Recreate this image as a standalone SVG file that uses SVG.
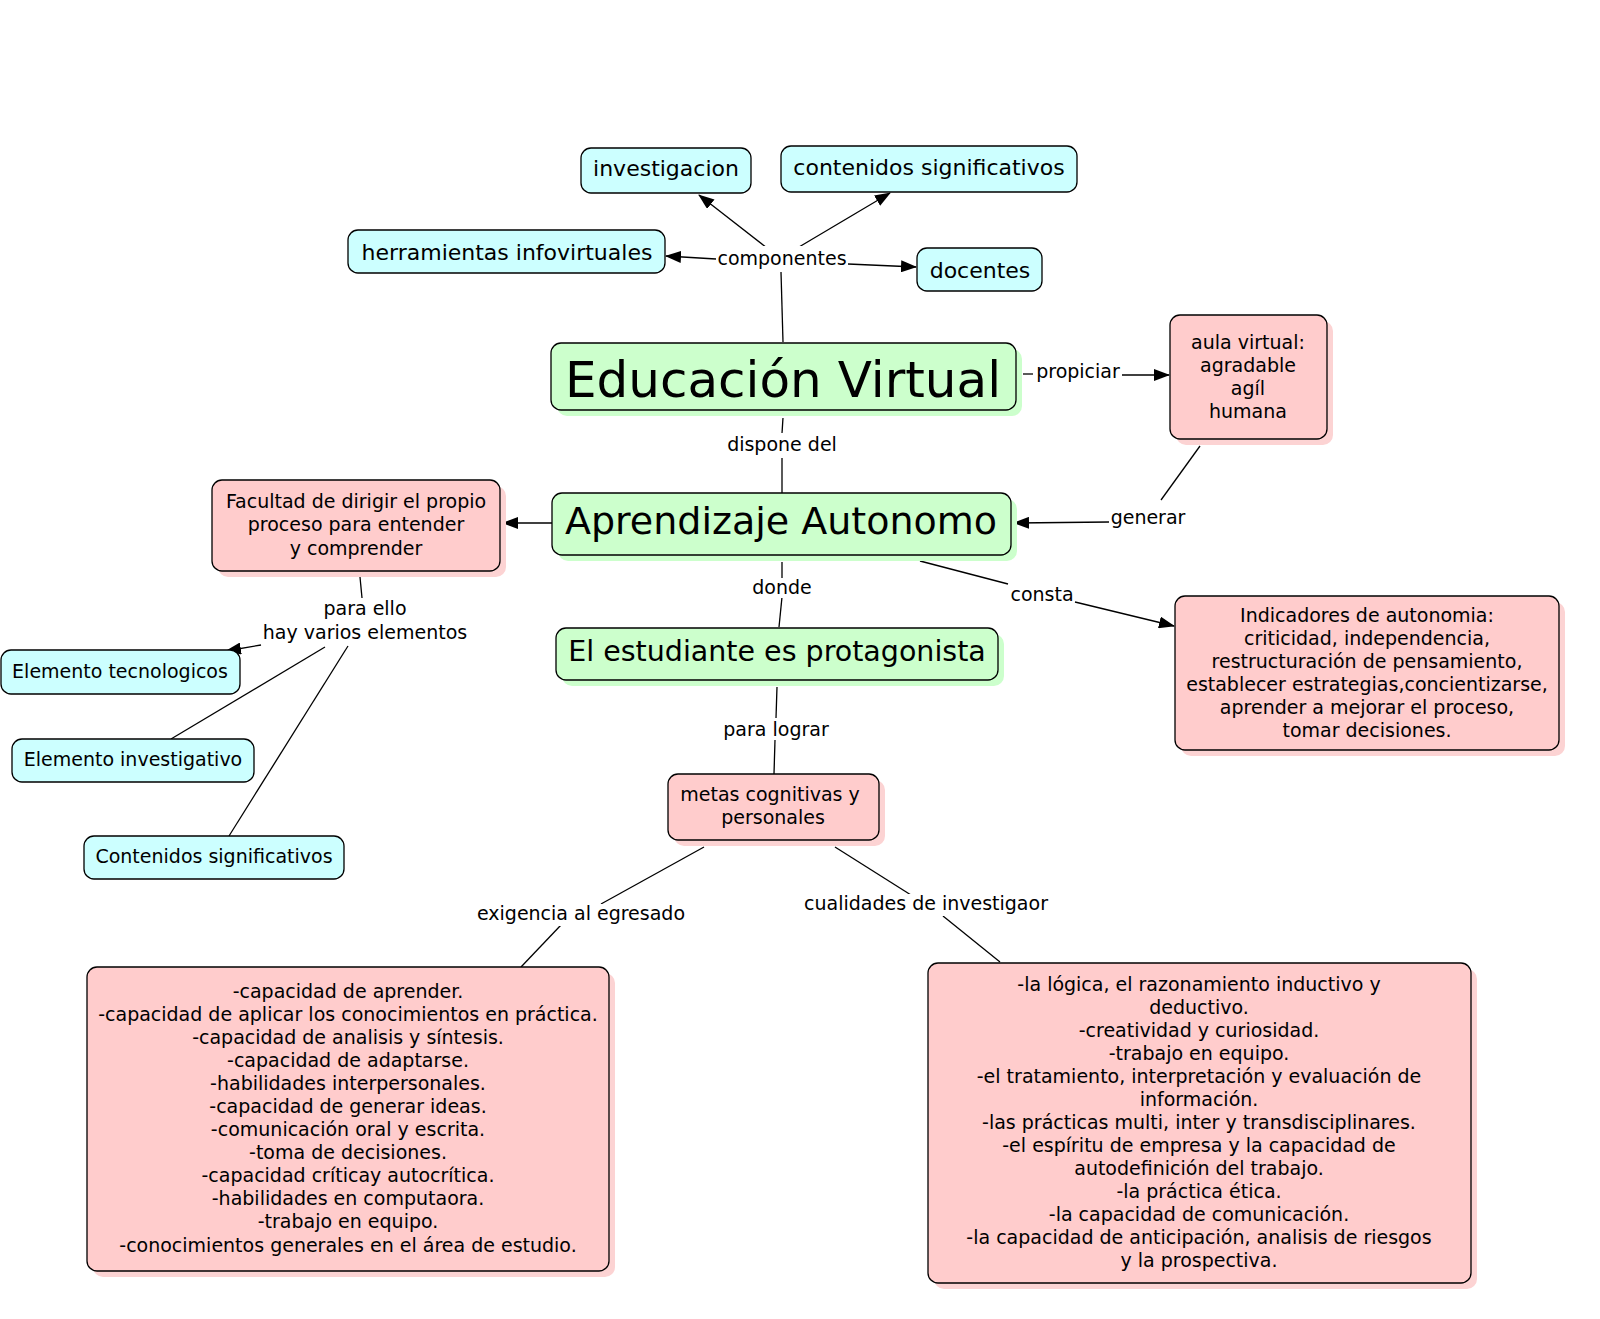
<svg xmlns="http://www.w3.org/2000/svg" width="1600" height="1319" viewBox="0 0 1600 1319">
<style>
text{font-family:"DejaVu Sans","Verdana",sans-serif;fill:#000;text-anchor:middle}
.n{stroke:#000;stroke-width:1.3}
.b{fill:#ccffff}
.g{fill:#ccffcc}
.p{fill:#ffcccc}
.gs{fill:#ccffcc}
.ps{fill:#fcd3d3}
.t17{font-size:19px}
.t20{font-size:22px}
.c line{stroke:#000;stroke-width:1.3}
.lbl{font-size:19px}
</style>
<defs>
<marker id="ah" viewBox="0 0 16 12" refX="15" refY="6" markerWidth="16" markerHeight="12" markerUnits="userSpaceOnUse" orient="auto">
<path d="M0,0 L16,6 L0,12 Z" fill="#000"/>
</marker>
</defs>
<rect width="1600" height="1319" fill="#fff"/>

<g id="connectors" class="c">
<line x1="783" y1="342" x2="781" y2="272"/>
<line x1="767" y1="248" x2="699" y2="195" marker-end="url(#ah)"/>
<line x1="799" y1="247" x2="890" y2="193" marker-end="url(#ah)"/>
<line x1="716" y1="259" x2="666" y2="256" marker-end="url(#ah)"/>
<line x1="848" y1="264" x2="916" y2="267" marker-end="url(#ah)"/>
<line x1="1023" y1="374" x2="1033" y2="374"/>
<line x1="1122" y1="375" x2="1169" y2="375" marker-end="url(#ah)"/>
<line x1="783" y1="418" x2="782" y2="433"/>
<line x1="782" y1="458" x2="782" y2="493"/>
<line x1="1200" y1="446" x2="1161" y2="500"/>
<line x1="1109" y1="522" x2="1014" y2="523" marker-end="url(#ah)"/>
<line x1="552" y1="523" x2="503" y2="523" marker-end="url(#ah)"/>
<line x1="782" y1="562" x2="782" y2="578"/>
<line x1="782" y1="597" x2="779" y2="627"/>
<line x1="920" y1="561" x2="1008" y2="584"/>
<line x1="1075" y1="602" x2="1174" y2="626" marker-end="url(#ah)"/>
<line x1="360" y1="577" x2="362" y2="598"/>
<line x1="261" y1="645" x2="226" y2="651" marker-end="url(#ah)"/>
<line x1="325" y1="647" x2="171" y2="739"/>
<line x1="348" y1="646" x2="229" y2="836"/>
<line x1="777" y1="687" x2="776" y2="718"/>
<line x1="775" y1="740" x2="774" y2="774"/>
<line x1="704" y1="847" x2="601" y2="904"/>
<line x1="561" y1="925" x2="521" y2="967"/>
<line x1="835" y1="847" x2="911" y2="895"/>
<line x1="943" y1="916" x2="1000" y2="962"/>
</g>

<g id="labels">
<rect x="716" y="246" width="132" height="24" fill="#fff"/>
<text class="lbl" x="782" y="265">componentes</text>
<rect x="1034" y="361" width="88" height="24" fill="#fff"/>
<text class="lbl" x="1078" y="378">propiciar</text>
<rect x="726" y="433" width="112" height="24" fill="#fff"/>
<text class="lbl" x="782" y="451">dispone del</text>
<text class="lbl" x="1148" y="524">generar</text>
<rect x="750" y="578" width="66" height="20" fill="#fff"/>
<text class="lbl" x="782" y="594">donde</text>
<text class="lbl" x="1042" y="601">consta</text>
<text class="lbl" x="365" y="615">para ello</text>
<text class="lbl" x="365" y="639">hay varios elementos</text>
<rect x="722" y="718" width="108" height="22" fill="#fff"/>
<text class="lbl" x="776" y="736">para lograr</text>
<rect x="474" y="904" width="214" height="22" fill="#fff"/>
<text class="lbl" x="581" y="920">exigencia al egresado</text>
<rect x="802" y="894" width="248" height="22" fill="#fff"/>
<text class="lbl" x="926" y="910">cualidades de investigaor</text>
</g>

<g id="n-investigacion">
<rect class="n b" x="581" y="148" width="170" height="45" rx="10"/>
<text class="t20" x="666" y="176">investigacion</text>
</g>
<g id="n-contenidos-top">
<rect class="n b" x="781" y="146" width="296" height="46" rx="10"/>
<text class="t20" x="929" y="175">contenidos significativos</text>
</g>
<g id="n-herramientas">
<rect class="n b" x="348" y="230" width="317" height="43" rx="10"/>
<text class="t20" x="507" y="260">herramientas infovirtuales</text>
</g>
<g id="n-docentes">
<rect class="n b" x="917" y="248" width="125" height="43" rx="10"/>
<text class="t20" x="980" y="278">docentes</text>
</g>

<g id="n-educacion">
<rect class="gs" x="557" y="349" width="465" height="67" rx="10"/>
<rect class="n g" x="551" y="343" width="465" height="67" rx="10"/>
<text x="783" y="397" style="font-size:50px">Educación Virtual</text>
</g>

<g id="n-aula">
<rect class="ps" x="1176" y="321" width="157" height="124" rx="10"/>
<rect class="n p" x="1170" y="315" width="157" height="124" rx="10"/>
<text class="t17" x="1248" y="349">aula virtual:</text>
<text class="t17" x="1248" y="372">agradable</text>
<text class="t17" x="1248" y="395">agíl</text>
<text class="t17" x="1248" y="418">humana</text>
</g>

<g id="n-aprendizaje">
<rect class="gs" x="558" y="499" width="459" height="62" rx="10"/>
<rect class="n g" x="552" y="493" width="459" height="62" rx="10"/>
<text x="781" y="534" style="font-size:38px">Aprendizaje Autonomo</text>
</g>

<g id="n-facultad">
<rect class="ps" x="218" y="486" width="288" height="91" rx="10"/>
<rect class="n p" x="212" y="480" width="288" height="91" rx="10"/>
<text class="t17" x="356" y="508">Facultad de dirigir el propio</text>
<text class="t17" x="356" y="531">proceso para entender</text>
<text class="t17" x="356" y="555">y comprender</text>
</g>

<g id="n-estudiante">
<rect class="gs" x="562" y="634" width="442" height="52" rx="10"/>
<rect class="n g" x="556" y="628" width="442" height="52" rx="10"/>
<text x="777" y="661" style="font-size:28.5px">El estudiante es protagonista</text>
</g>

<g id="n-indicadores">
<rect class="ps" x="1181" y="602" width="384" height="154" rx="10"/>
<rect class="n p" x="1175" y="596" width="384" height="154" rx="10"/>
<text class="t17" x="1367" y="622">Indicadores de autonomia:</text>
<text class="t17" x="1367" y="645">criticidad, independencia,</text>
<text class="t17" x="1367" y="668">restructuración de pensamiento,</text>
<text class="t17" x="1367" y="691">establecer estrategias,concientizarse,</text>
<text class="t17" x="1367" y="714">aprender a mejorar el proceso,</text>
<text class="t17" x="1367" y="737">tomar decisiones.</text>
</g>

<g id="n-tecnologicos">
<rect class="n b" x="1" y="650" width="239" height="44" rx="10"/>
<text class="t17" x="120" y="678">Elemento tecnologicos</text>
</g>
<g id="n-investigativo">
<rect class="n b" x="12" y="739" width="242" height="43" rx="10"/>
<text class="t17" x="133" y="766">Elemento investigativo</text>
</g>
<g id="n-contenidos-left">
<rect class="n b" x="84" y="836" width="260" height="43" rx="10"/>
<text class="t17" x="214" y="863">Contenidos significativos</text>
</g>

<g id="n-metas">
<rect class="ps" x="674" y="780" width="211" height="66" rx="10"/>
<rect class="n p" x="668" y="774" width="211" height="66" rx="10"/>
<text class="t17" x="770" y="801">metas cognitivas y</text>
<text class="t17" x="773" y="824">personales</text>
</g>

<g id="n-exigencia">
<rect class="ps" x="93" y="973" width="522" height="304" rx="10"/>
<rect class="n p" x="87" y="967" width="522" height="304" rx="10"/>
<text class="t17" x="348" y="998">-capacidad de aprender.</text>
<text class="t17" x="348" y="1021">-capacidad de aplicar los conocimientos en práctica.</text>
<text class="t17" x="348" y="1044">-capacidad de analisis y síntesis.</text>
<text class="t17" x="348" y="1067">-capacidad de adaptarse.</text>
<text class="t17" x="348" y="1090">-habilidades interpersonales.</text>
<text class="t17" x="348" y="1113">-capacidad de generar ideas.</text>
<text class="t17" x="348" y="1136">-comunicación oral y escrita.</text>
<text class="t17" x="348" y="1159">-toma de decisiones.</text>
<text class="t17" x="348" y="1182">-capacidad críticay autocrítica.</text>
<text class="t17" x="348" y="1205">-habilidades en computaora.</text>
<text class="t17" x="348" y="1228">-trabajo en equipo.</text>
<text class="t17" x="348" y="1252">-conocimientos generales en el área de estudio.</text>
</g>

<g id="n-cualidades">
<rect class="ps" x="934" y="969" width="543" height="320" rx="10"/>
<rect class="n p" x="928" y="963" width="543" height="320" rx="10"/>
<text class="t17" x="1199" y="991">-la lógica, el razonamiento inductivo y</text>
<text class="t17" x="1199" y="1014">deductivo.</text>
<text class="t17" x="1199" y="1037">-creatividad y curiosidad.</text>
<text class="t17" x="1199" y="1060">-trabajo en equipo.</text>
<text class="t17" x="1199" y="1083">-el tratamiento, interpretación y evaluación de</text>
<text class="t17" x="1199" y="1106">información.</text>
<text class="t17" x="1199" y="1129">-las prácticas multi, inter y transdisciplinares.</text>
<text class="t17" x="1199" y="1152">-el espíritu de empresa y la capacidad de</text>
<text class="t17" x="1199" y="1175">autodefinición del trabajo.</text>
<text class="t17" x="1199" y="1198">-la práctica ética.</text>
<text class="t17" x="1199" y="1221">-la capacidad de comunicación.</text>
<text class="t17" x="1199" y="1244">-la capacidad de anticipación, analisis de riesgos</text>
<text class="t17" x="1199" y="1267">y la prospectiva.</text>
</g>
</svg>
